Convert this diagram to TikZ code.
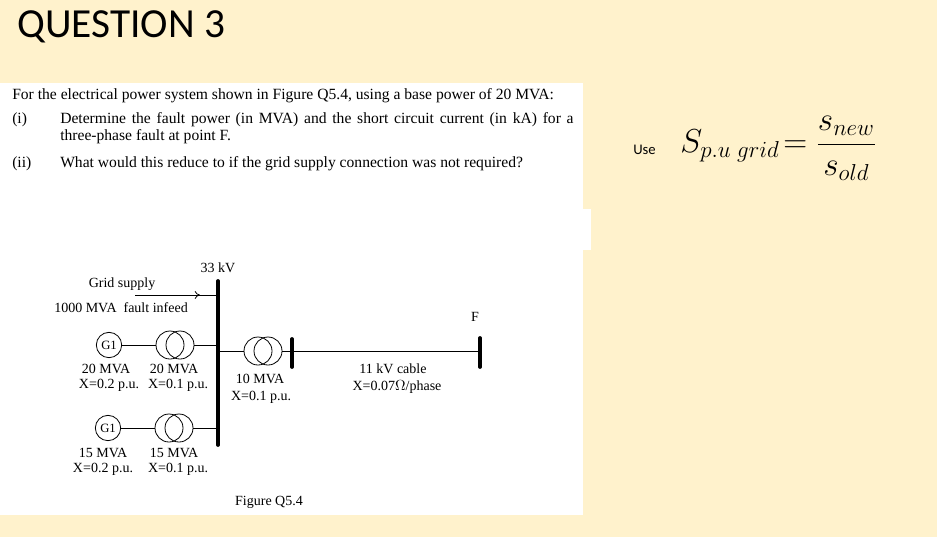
\documentclass[tikz,border=0pt]{standalone}
\usepackage{fontspec}
\usetikzlibrary{arrows.meta}
\setmainfont{Liberation Serif}
\newfontfamily\carlfont{Carlito}
\definecolor{cream}{RGB}{255,242,204}
\begin{document}
\begin{tikzpicture}[x=0.75pt,y=-0.75pt,
  lbl/.style={font=\fontsize{10.5}{12}\selectfont,inner sep=0pt},
  gen/.style={circle,draw,line width=0.6pt,minimum size=19pt,inner sep=0pt,font=\fontsize{9.5}{10}\selectfont},
  tc/.style={circle,draw,line width=0.6pt,minimum size=21pt,inner sep=0pt},
  bus/.style={line width=2.8pt,line cap=round},
  wire/.style={line width=0.6pt}]
\fill[cream] (0,0) rectangle (937,537);
\useasboundingbox (0,0) rectangle (937,537);
\fill[white] (0,83) rectangle (583,209);
\fill[white] (0,209) rectangle (591,250);
\fill[white] (0,250) rectangle (583,515);
\node[anchor=west,inner sep=0pt,font=\carlfont\fontsize{31}{33}\selectfont] (title) at (17,27) {QUESTION 3};
\begin{scope}[every node/.style={anchor=west,inner sep=0pt,font=\fontsize{11.7}{12.5}\selectfont}]
\node (q0) at (12,96) {For the electrical power system shown in Figure Q5.4, using a base power of 20 MVA:};
\node (q1n) at (12,120) {(i)};
\node[text width=385pt,align=justify] (q1) at (60,128) {Determine the fault power (in MVA) and the short circuit current (in kA) for a three-phase fault at point F.};
\node (q2n) at (12,164) {(ii)};
\node (q2) at (60,164) {What would this reduce to if the grid supply connection was not required?};
\end{scope}
\node[anchor=west,inner sep=0pt,font=\carlfont\fontsize{11}{12}\selectfont] (use) at (633,150) {Use};
\node[anchor=west,inner sep=0pt,font=\fontsize{24}{26}\selectfont] (eq) at (680,148) {$\displaystyle S_{p.u\;grid}\!=\frac{s_{new}}{s_{old}}$};
% diagram
\node[lbl] (kv) at (218,268) {33 kV};
\coordinate (bt) at (218,281); \coordinate (bb) at (218,445);
\draw[bus] (bt) -- (bb);
\node[lbl] (grid) at (122,284) {Grid supply};
\node[lbl] (inf) at (121,308) {1000 MVA\enspace fault infeed};
\coordinate (ga) at (135,295); \coordinate (gb) at (218,295); \coordinate (gc) at (200,295);
\draw[wire] (ga) -- (gb);
\draw[wire,-{To[length=4pt,width=6pt]}] (ga) -- (gc);
\node[gen] (g1) at (109,345) {G1};
\node[tc] (t1a) at (170,345) {}; \node[tc] (t1b) at (180,345) {};
\draw[wire] (g1) -- (t1a.west); \draw[wire] (t1b.east) -- (218,345);
\node[lbl] at (106,369) {20 MVA}; \node[lbl] at (109,385) {X=0.2 p.u.};
\node[lbl] at (174,369) {20 MVA}; \node[lbl] at (178,385) {X=0.1 p.u.};
\node[gen] (g2) at (108,428) {G1};
\node[tc] (t2a) at (169,428) {}; \node[tc] (t2b) at (179,428) {};
\draw[wire] (g2) -- (t2a.west); \draw[wire] (t2b.east) -- (218,428);
\node[lbl] at (103,453) {15 MVA}; \node[lbl] at (103,469) {X=0.2 p.u.};
\node[lbl] at (174,453) {15 MVA}; \node[lbl] at (178,469) {X=0.1 p.u.};
\node[tc] (t3a) at (258,351) {}; \node[tc] (t3b) at (268,351) {};
\coordinate (b2t) at (292,339); \coordinate (b2b) at (292,367);
\coordinate (b2) at (292,351);
\coordinate (b3t) at (480,338); \coordinate (b3b) at (480,367);
\coordinate (b3) at (480,351);
\draw[wire] (218,351) -- (t3a.west); \draw[wire] (t3b.east) -- (b2);
\draw[bus] (b2t) -- (b2b);
\draw[wire] (b2) -- (b3);
\draw[bus] (b3t) -- (b3b);
\node[lbl] (F) at (475,317) {F};
\node[lbl] at (260,379) {10 MVA}; \node[lbl] at (261,397) {X=0.1 p.u.};
\node[lbl] at (393,369) {11 kV cable}; \node[lbl] at (397,387) {X=0.07$\Omega$/phase};
\node[lbl] (fig) at (269,502) {Figure Q5.4};
\end{tikzpicture}
\end{document}
